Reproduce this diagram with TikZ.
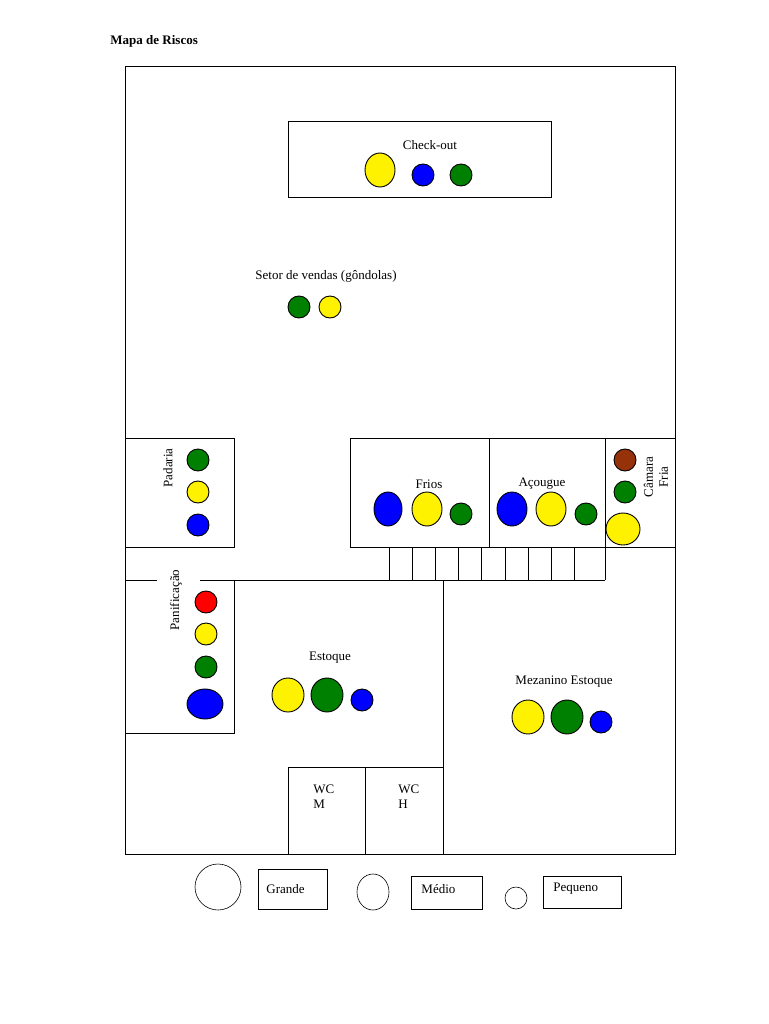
\documentclass[tikz,border=0pt]{standalone}
\usepackage{fontspec}
\setmainfont{Liberation Serif}
\begin{document}
\begin{tikzpicture}[x=1pt,y=-1pt,line width=0.9pt,
  lbl/.style={font=\fontsize{13}{15}\selectfont,inner sep=0pt},
  dot/.style={draw=black,line width=0.6pt,ellipse,inner sep=0pt},
  Y/.style={fill=yellow},B/.style={fill=blue},G/.style={fill=green!50!black},
  R/.style={fill=red},Br/.style={fill={rgb,255:red,150;green,50;blue,10}},
  box/.style={draw,line width=0.9pt}]
\useasboundingbox (0,0) rectangle (768,1024);
\node[lbl,anchor=west,font=\bfseries\fontsize{13}{15}\selectfont] (title) at (110,41) {Mapa de Riscos};
\draw (125,66) rectangle (675,854);
% check-out
\draw (288,121) rectangle (551,197);
\node[lbl] (co) at (430,145) {Check-out};
\fill[Y,draw] (380,170) ellipse (15 and 17);
\fill[B,draw] (423,175) circle (11);
\fill[G,draw] (461,175) circle (11);
\node[lbl] (sv) at (326,276) {Setor de vendas (gôndolas)};
\fill[G,draw] (299,307) circle (11);
\fill[Y,draw] (330,307) circle (11);
% padaria
\draw (125,438) rectangle (234,547);
\node[lbl,rotate=90] (pad) at (168,468) {Padaria};
\fill[G,draw] (198,460) circle (11);
\fill[Y,draw] (198,492) circle (11);
\fill[B,draw] (198,525) circle (11);
% frios / acougue / camara
\draw (350,547) -- (350,438) -- (675,438);
\draw (350,547) -- (675,547);
\draw (489,438) -- (489,547);
\draw (605,438) -- (605,580);
\node[lbl] (fr) at (429,484) {Frios};
\node[lbl] (ac) at (542,484) {Açougue};
\fill[B,draw] (388,509) ellipse (14 and 17);
\fill[Y,draw] (427,509) ellipse (15 and 17);
\fill[G,draw] (461,514) circle (11);
\fill[B,draw] (512,509) ellipse (15 and 17);
\fill[Y,draw] (551,509) ellipse (15 and 17);
\fill[G,draw] (586,514) circle (11);
\fill[Br,draw] (625,460) circle (11);
\fill[G,draw] (625,492) circle (11);
\fill[Y,draw] (623,529) ellipse (17 and 16);
\node[lbl,rotate=90,align=center] (cf) at (656,477) {Câmara\\Fria};
% stairs
\foreach \x in {389,412,435,458,481,505,528,551,574} \draw (\x,547) -- (\x,580);
% corridor lines
\draw (125,580) -- (157,580);
\draw (200,580) -- (605,580);
% panificacao
\draw (234,580) -- (234,733) -- (125,733);
\node[lbl,rotate=90] (pan) at (176,600) {Panificação};
\fill[R,draw] (206,602) circle (11);
\fill[Y,draw] (206,634) circle (11);
\fill[G,draw] (206,667) circle (11);
\fill[B,draw] (205,704) ellipse (18 and 15);
% estoque
\draw (443,580) -- (443,854);
\node[lbl] (est) at (330,658) {Estoque};
\fill[Y,draw] (288,695) ellipse (16 and 17);
\fill[G,draw] (327,695) ellipse (16 and 17);
\fill[B,draw] (362,700) circle (11);
\node[lbl] (mez) at (564,682) {Mezanino Estoque};
\fill[Y,draw] (528,717) ellipse (16 and 17);
\fill[G,draw] (567,717) ellipse (16 and 17);
\fill[B,draw] (601,722) circle (11);
% WC
\draw (288,854) -- (288,767) -- (443,767);
\draw (365,767) -- (365,854);
\node[lbl,align=left,anchor=north west] (wcm) at (313,784) {WC\\M};
\node[lbl,align=left,anchor=north west] (wch) at (398,784) {WC\\H};
% legend
\draw[line width=0.6pt] (218,887) circle (23);
\node[box,lbl,minimum width=69pt,minimum height=40pt] (gr) at (292.5,889) {};
\node[lbl,anchor=west] at (266,889) {Grande};
\draw[line width=0.6pt] (373,892) ellipse (16 and 18);
\node[box,minimum width=71pt,minimum height=33pt] (me) at (446.5,892.5) {};
\node[lbl,anchor=west] at (421,889) {Médio};
\draw[line width=0.6pt] (516,898) circle (11);
\node[box,minimum width=78pt,minimum height=32pt] (pe) at (582,892) {};
\node[lbl,anchor=west] at (553,889) {Pequeno};
\end{tikzpicture}
\end{document}
